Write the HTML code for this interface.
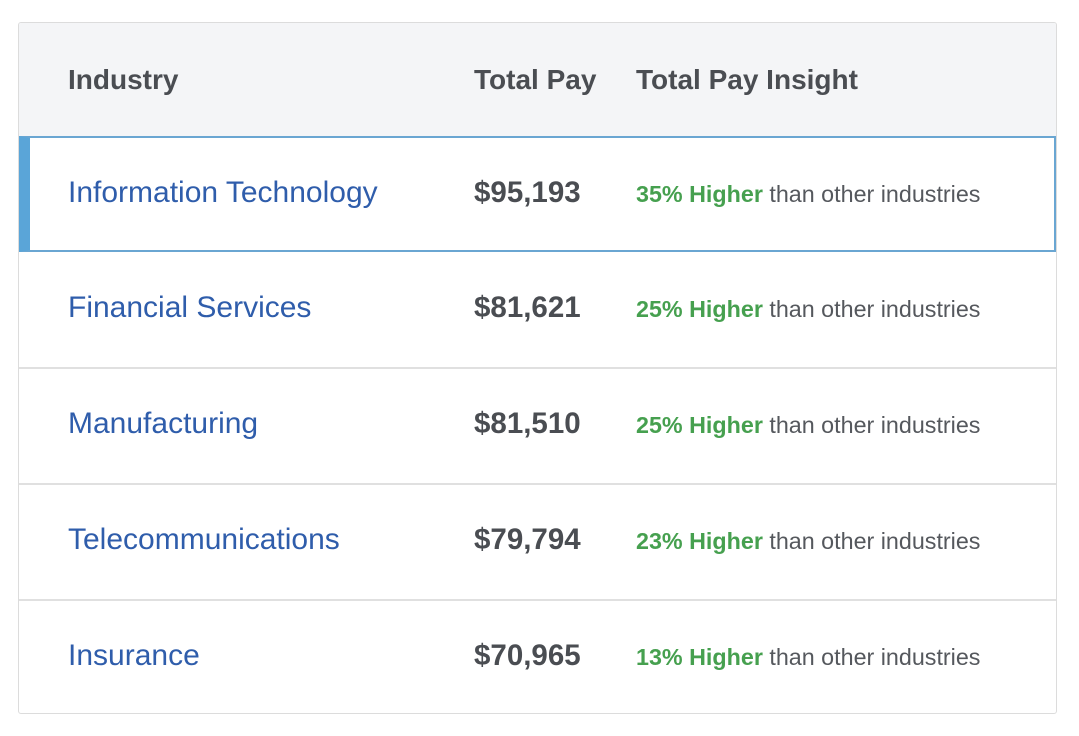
<!DOCTYPE html>
<html><head><style>
body{margin:0;width:1079px;height:736px;background:#fff;font-family:"Liberation Sans",sans-serif;position:relative;overflow:hidden}
.card{position:absolute;left:18px;top:22px;width:1037px;height:690px;border:1px solid #dcdcdc;border-radius:3px;overflow:hidden}
.hdr{position:absolute;left:0;top:0;width:100%;height:113px;background:#f4f5f7}
.t{position:absolute;white-space:nowrap}
.h{font-size:28px;font-weight:bold;color:#4a4d52;top:41px}
.row{position:absolute;left:0;width:1037px;height:114px;border-bottom:2px solid #e0e0e0;box-sizing:border-box}
.name{left:49px;font-size:30px;color:#2f5dab;top:39px}
.amt{left:455px;font-size:29.5px;font-weight:bold;color:#4a4d52;top:39px}
.ins{left:617px;font-size:23.3px;color:#55585d;top:44px}
.ins b{color:#46a04f}
.sel{border:2px solid #6aa6d2;border-left:11px solid #5aa5d8}
</style></head><body>
<div class="card">
<div class="hdr">
<div class="t h" style="left:49px">Industry</div>
<div class="t h" style="left:455px">Total Pay</div>
<div class="t h" style="left:617px">Total Pay Insight</div>
</div>
<div class="row sel" style="top:113px;height:116px"><div class="t name" style="left:38px;top:38px">Information Technology</div><div class="t amt" style="left:444px;top:38px">$95,193</div><div class="t ins" style="left:606px;top:43px"><b>35% Higher</b> than other industries</div></div>
<div class="row" style="top:229px;height:117px"><div class="t name">Financial Services</div><div class="t amt">$81,621</div><div class="t ins"><b>25% Higher</b> than other industries</div></div>
<div class="row" style="top:345px;height:117px"><div class="t name">Manufacturing</div><div class="t amt">$81,510</div><div class="t ins"><b>25% Higher</b> than other industries</div></div>
<div class="row" style="top:461px;height:117px"><div class="t name">Telecommunications</div><div class="t amt">$79,794</div><div class="t ins"><b>23% Higher</b> than other industries</div></div>
<div class="row" style="top:577px;height:116px;border-bottom:none"><div class="t name">Insurance</div><div class="t amt">$70,965</div><div class="t ins"><b>13% Higher</b> than other industries</div></div>
</div>
</body></html>
